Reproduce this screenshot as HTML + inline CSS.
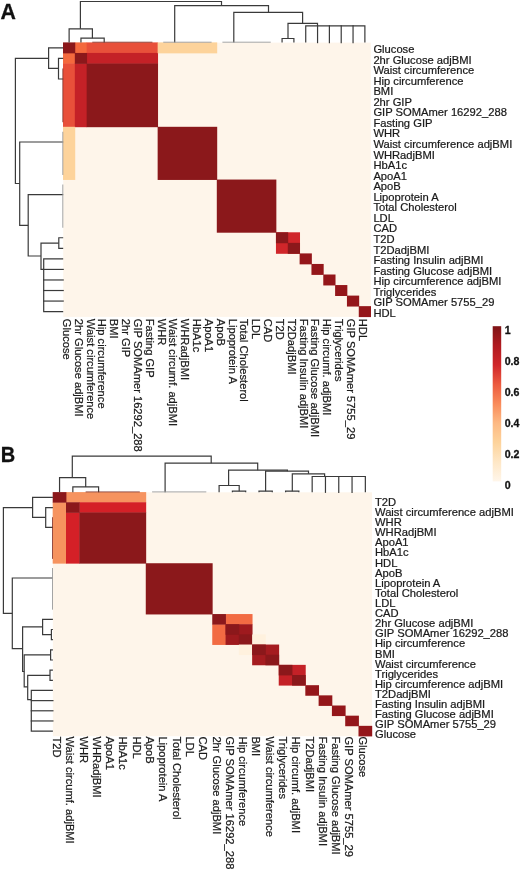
<!DOCTYPE html>
<html><head><meta charset="utf-8"><title>Figure</title>
<style>
html,body{margin:0;padding:0;background:#fff;}
body{width:520px;height:870px;overflow:hidden;}
svg{display:block;font-family:"Liberation Sans",Arial,Helvetica,sans-serif;}
</style></head><body>
<svg width="520" height="870" viewBox="0 0 520 870">
<rect x="63.20" y="42.60" width="307.60" height="274.30" fill="#fef5ea"/>
<rect x="74.83" y="42.40" width="12.23" height="10.95" fill="#f4693e"/>
<rect x="63.00" y="52.95" width="12.23" height="10.95" fill="#f4693e"/>
<rect x="86.66" y="42.40" width="71.38" height="10.95" fill="#e8503a"/>
<rect x="63.00" y="63.50" width="12.23" height="63.70" fill="#e8503a"/>
<rect x="86.66" y="52.95" width="71.38" height="10.95" fill="#c42127"/>
<rect x="74.83" y="63.50" width="12.23" height="63.70" fill="#c42127"/>
<rect x="157.65" y="42.40" width="59.55" height="10.95" fill="#fdd39b"/>
<rect x="63.00" y="126.80" width="12.23" height="53.15" fill="#fdd39b"/>
<rect x="63.00" y="42.40" width="12.23" height="10.95" fill="#8b181b"/>
<rect x="74.83" y="52.95" width="12.23" height="10.95" fill="#8b181b"/>
<rect x="86.66" y="63.50" width="71.38" height="63.70" fill="#8b181b"/>
<rect x="157.65" y="126.80" width="59.55" height="53.15" fill="#8b181b"/>
<rect x="216.80" y="179.55" width="59.55" height="53.15" fill="#8b181b"/>
<rect x="275.95" y="232.30" width="24.06" height="21.50" fill="#d0262a"/>
<rect x="275.95" y="232.30" width="12.23" height="10.95" fill="#8b181b"/>
<rect x="287.78" y="242.85" width="12.23" height="10.95" fill="#8b181b"/>
<rect x="299.62" y="253.40" width="12.23" height="10.95" fill="#94161a"/>
<rect x="311.45" y="263.95" width="12.23" height="10.95" fill="#94161a"/>
<rect x="323.28" y="274.50" width="12.23" height="10.95" fill="#94161a"/>
<rect x="335.11" y="285.05" width="12.23" height="10.95" fill="#94161a"/>
<rect x="346.94" y="295.60" width="12.23" height="10.95" fill="#94161a"/>
<rect x="358.77" y="306.15" width="12.23" height="10.95" fill="#94161a"/>
<path d="M80.40 28.80L80.40 1.50L221.50 1.50L221.50 5.70" stroke="#3a3a3a" stroke-width="1.2" fill="none" stroke-linejoin="miter"/>
<path d="M69.12 42.60L69.12 28.80L92.40 28.80L92.40 38.20" stroke="#3a3a3a" stroke-width="1.2" fill="none" stroke-linejoin="miter"/>
<path d="M80.95 42.60L80.95 38.20L104.20 38.20L104.20 42.60" stroke="#3a3a3a" stroke-width="1.2" fill="none" stroke-linejoin="miter"/>
<path d="M174.70 42.60L174.70 5.70L268.50 5.70L268.50 12.30" stroke="#3a3a3a" stroke-width="1.2" fill="none" stroke-linejoin="miter"/>
<path d="M233.80 42.60L233.80 12.30L302.60 12.30L302.60 23.40" stroke="#3a3a3a" stroke-width="1.2" fill="none" stroke-linejoin="miter"/>
<path d="M288.00 38.50L288.00 23.40L317.50 23.40L317.50 25.80" stroke="#3a3a3a" stroke-width="1.2" fill="none" stroke-linejoin="miter"/>
<path d="M282.07 42.60L282.07 38.50L293.90 38.50L293.90 42.60" stroke="#3a3a3a" stroke-width="1.2" fill="none" stroke-linejoin="miter"/>
<path d="M305.73 42.60L305.73 25.80L364.88 25.80L364.88 42.60" stroke="#3a3a3a" stroke-width="1.2" fill="none" stroke-linejoin="miter"/>
<path d="M317.56 25.80L317.56 42.60" stroke="#3a3a3a" stroke-width="1.2" fill="none" stroke-linecap="square"/>
<path d="M329.39 25.80L329.39 42.60" stroke="#3a3a3a" stroke-width="1.2" fill="none" stroke-linecap="square"/>
<path d="M341.22 25.80L341.22 42.60" stroke="#3a3a3a" stroke-width="1.2" fill="none" stroke-linecap="square"/>
<path d="M353.05 25.80L353.05 42.60" stroke="#3a3a3a" stroke-width="1.2" fill="none" stroke-linecap="square"/>
<path d="M92.78 42.20L151.93 42.20" stroke="#7a2a22" stroke-width="0.8" fill="none" stroke-linecap="square"/>
<path d="M163.76 42.20L211.08 42.20" stroke="#9a9a9a" stroke-width="0.9" fill="none" stroke-linecap="square"/>
<path d="M222.92 42.20L270.24 42.20" stroke="#9a9a9a" stroke-width="0.9" fill="none" stroke-linecap="square"/>
<path d="M48.60 58.40L15.40 58.40L15.40 183.50L19.70 183.50" stroke="#3a3a3a" stroke-width="1.2" fill="none" stroke-linejoin="miter"/>
<path d="M63.20 47.88L48.60 47.88L48.60 68.40L58.50 68.40" stroke="#3a3a3a" stroke-width="1.2" fill="none" stroke-linejoin="miter"/>
<path d="M63.20 58.42L58.50 58.42L58.50 79.00L63.20 79.00" stroke="#3a3a3a" stroke-width="1.2" fill="none" stroke-linejoin="miter"/>
<path d="M63.20 142.00L19.70 142.00L19.70 225.40L28.20 225.40" stroke="#3a3a3a" stroke-width="1.2" fill="none" stroke-linejoin="miter"/>
<path d="M63.20 194.70L28.20 194.70L28.20 256.00L41.00 256.00" stroke="#3a3a3a" stroke-width="1.2" fill="none" stroke-linejoin="miter"/>
<path d="M58.80 243.10L41.00 243.10L41.00 269.43L43.70 269.43" stroke="#3a3a3a" stroke-width="1.2" fill="none" stroke-linejoin="miter"/>
<path d="M63.20 237.77L58.80 237.77L58.80 248.32L63.20 248.32" stroke="#3a3a3a" stroke-width="1.2" fill="none" stroke-linejoin="miter"/>
<path d="M63.20 258.88L43.70 258.88L43.70 311.62L63.20 311.62" stroke="#3a3a3a" stroke-width="1.2" fill="none" stroke-linejoin="miter"/>
<path d="M43.70 269.43L63.20 269.43" stroke="#3a3a3a" stroke-width="1.2" fill="none" stroke-linecap="square"/>
<path d="M43.70 279.97L63.20 279.97" stroke="#3a3a3a" stroke-width="1.2" fill="none" stroke-linecap="square"/>
<path d="M43.70 290.52L63.20 290.52" stroke="#3a3a3a" stroke-width="1.2" fill="none" stroke-linecap="square"/>
<path d="M43.70 301.07L63.20 301.07" stroke="#3a3a3a" stroke-width="1.2" fill="none" stroke-linecap="square"/>
<path d="M62.80 68.97L62.80 121.72" stroke="#7a2a22" stroke-width="0.8" fill="none" stroke-linecap="square"/>
<path d="M62.80 132.28L62.80 174.47" stroke="#9a9a9a" stroke-width="0.9" fill="none" stroke-linecap="square"/>
<path d="M62.80 185.02L62.80 227.22" stroke="#9a9a9a" stroke-width="0.9" fill="none" stroke-linecap="square"/>
<text x="373.40" y="52.98" font-size="11.2" font-weight="normal" fill="#1a1a1a" stroke="#1a1a1a" stroke-width="0.22">Glucose</text>
<text x="373.40" y="63.54" font-size="11.2" font-weight="normal" fill="#1a1a1a" stroke="#1a1a1a" stroke-width="0.22">2hr Glucose adjBMI</text>
<text x="373.40" y="74.10" font-size="11.2" font-weight="normal" fill="#1a1a1a" stroke="#1a1a1a" stroke-width="0.22">Waist circumference</text>
<text x="373.40" y="84.65" font-size="11.2" font-weight="normal" fill="#1a1a1a" stroke="#1a1a1a" stroke-width="0.22">Hip circumference</text>
<text x="373.40" y="95.21" font-size="11.2" font-weight="normal" fill="#1a1a1a" stroke="#1a1a1a" stroke-width="0.22">BMI</text>
<text x="373.40" y="105.77" font-size="11.2" font-weight="normal" fill="#1a1a1a" stroke="#1a1a1a" stroke-width="0.22">2hr GIP</text>
<text x="373.40" y="116.33" font-size="11.2" font-weight="normal" fill="#1a1a1a" stroke="#1a1a1a" stroke-width="0.22">GIP SOMAmer 16292_288</text>
<text x="373.40" y="126.89" font-size="11.2" font-weight="normal" fill="#1a1a1a" stroke="#1a1a1a" stroke-width="0.22">Fasting GIP</text>
<text x="373.40" y="137.44" font-size="11.2" font-weight="normal" fill="#1a1a1a" stroke="#1a1a1a" stroke-width="0.22">WHR</text>
<text x="373.40" y="148.00" font-size="11.2" font-weight="normal" fill="#1a1a1a" stroke="#1a1a1a" stroke-width="0.22">Waist circumference adjBMI</text>
<text x="373.40" y="158.56" font-size="11.2" font-weight="normal" fill="#1a1a1a" stroke="#1a1a1a" stroke-width="0.22">WHRadjBMI</text>
<text x="373.40" y="169.12" font-size="11.2" font-weight="normal" fill="#1a1a1a" stroke="#1a1a1a" stroke-width="0.22">HbA1c</text>
<text x="373.40" y="179.68" font-size="11.2" font-weight="normal" fill="#1a1a1a" stroke="#1a1a1a" stroke-width="0.22">ApoA1</text>
<text x="373.40" y="190.23" font-size="11.2" font-weight="normal" fill="#1a1a1a" stroke="#1a1a1a" stroke-width="0.22">ApoB</text>
<text x="373.40" y="200.79" font-size="11.2" font-weight="normal" fill="#1a1a1a" stroke="#1a1a1a" stroke-width="0.22">Lipoprotein A</text>
<text x="373.40" y="211.35" font-size="11.2" font-weight="normal" fill="#1a1a1a" stroke="#1a1a1a" stroke-width="0.22">Total Cholesterol</text>
<text x="373.40" y="221.91" font-size="11.2" font-weight="normal" fill="#1a1a1a" stroke="#1a1a1a" stroke-width="0.22">LDL</text>
<text x="373.40" y="232.47" font-size="11.2" font-weight="normal" fill="#1a1a1a" stroke="#1a1a1a" stroke-width="0.22">CAD</text>
<text x="373.40" y="243.02" font-size="11.2" font-weight="normal" fill="#1a1a1a" stroke="#1a1a1a" stroke-width="0.22">T2D</text>
<text x="373.40" y="253.58" font-size="11.2" font-weight="normal" fill="#1a1a1a" stroke="#1a1a1a" stroke-width="0.22">T2DadjBMI</text>
<text x="373.40" y="264.14" font-size="11.2" font-weight="normal" fill="#1a1a1a" stroke="#1a1a1a" stroke-width="0.22">Fasting Insulin adjBMI</text>
<text x="373.40" y="274.70" font-size="11.2" font-weight="normal" fill="#1a1a1a" stroke="#1a1a1a" stroke-width="0.22">Fasting Glucose adjBMI</text>
<text x="373.40" y="285.26" font-size="11.2" font-weight="normal" fill="#1a1a1a" stroke="#1a1a1a" stroke-width="0.22">Hip circumference adjBMI</text>
<text x="373.40" y="295.81" font-size="11.2" font-weight="normal" fill="#1a1a1a" stroke="#1a1a1a" stroke-width="0.22">Triglycerides</text>
<text x="373.40" y="306.37" font-size="11.2" font-weight="normal" fill="#1a1a1a" stroke="#1a1a1a" stroke-width="0.22">GIP SOMAmer 5755_29</text>
<text x="373.40" y="316.93" font-size="11.2" font-weight="normal" fill="#1a1a1a" stroke="#1a1a1a" stroke-width="0.22">HDL</text>
<text transform="translate(62.92 318.80) rotate(90)" font-size="11.15" font-weight="normal" fill="#1a1a1a" stroke="#1a1a1a" stroke-width="0.22">Glucose</text>
<text transform="translate(74.75 318.80) rotate(90)" font-size="11.15" font-weight="normal" fill="#1a1a1a" stroke="#1a1a1a" stroke-width="0.22">2hr Glucose adjBMI</text>
<text transform="translate(86.58 318.80) rotate(90)" font-size="11.15" font-weight="normal" fill="#1a1a1a" stroke="#1a1a1a" stroke-width="0.22">Waist circumference</text>
<text transform="translate(98.41 318.80) rotate(90)" font-size="11.15" font-weight="normal" fill="#1a1a1a" stroke="#1a1a1a" stroke-width="0.22">Hip circumference</text>
<text transform="translate(110.24 318.80) rotate(90)" font-size="11.15" font-weight="normal" fill="#1a1a1a" stroke="#1a1a1a" stroke-width="0.22">BMI</text>
<text transform="translate(122.07 318.80) rotate(90)" font-size="11.15" font-weight="normal" fill="#1a1a1a" stroke="#1a1a1a" stroke-width="0.22">2hr GIP</text>
<text transform="translate(133.90 318.80) rotate(90)" font-size="11.15" font-weight="normal" fill="#1a1a1a" stroke="#1a1a1a" stroke-width="0.22">GIP SOMAmer 16292_288</text>
<text transform="translate(145.73 318.80) rotate(90)" font-size="11.15" font-weight="normal" fill="#1a1a1a" stroke="#1a1a1a" stroke-width="0.22">Fasting GIP</text>
<text transform="translate(157.56 318.80) rotate(90)" font-size="11.15" font-weight="normal" fill="#1a1a1a" stroke="#1a1a1a" stroke-width="0.22">WHR</text>
<text transform="translate(169.39 318.80) rotate(90)" font-size="11.15" font-weight="normal" fill="#1a1a1a" stroke="#1a1a1a" stroke-width="0.22">Waist circumf. adjBMI</text>
<text transform="translate(181.22 318.80) rotate(90)" font-size="11.15" font-weight="normal" fill="#1a1a1a" stroke="#1a1a1a" stroke-width="0.22">WHRadjBMI</text>
<text transform="translate(193.05 318.80) rotate(90)" font-size="11.15" font-weight="normal" fill="#1a1a1a" stroke="#1a1a1a" stroke-width="0.22">HbA1c</text>
<text transform="translate(204.88 318.80) rotate(90)" font-size="11.15" font-weight="normal" fill="#1a1a1a" stroke="#1a1a1a" stroke-width="0.22">ApoA1</text>
<text transform="translate(216.72 318.80) rotate(90)" font-size="11.15" font-weight="normal" fill="#1a1a1a" stroke="#1a1a1a" stroke-width="0.22">ApoB</text>
<text transform="translate(228.55 318.80) rotate(90)" font-size="11.15" font-weight="normal" fill="#1a1a1a" stroke="#1a1a1a" stroke-width="0.22">Lipoprotein A</text>
<text transform="translate(240.38 318.80) rotate(90)" font-size="11.15" font-weight="normal" fill="#1a1a1a" stroke="#1a1a1a" stroke-width="0.22">Total Cholesterol</text>
<text transform="translate(252.21 318.80) rotate(90)" font-size="11.15" font-weight="normal" fill="#1a1a1a" stroke="#1a1a1a" stroke-width="0.22">LDL</text>
<text transform="translate(264.04 318.80) rotate(90)" font-size="11.15" font-weight="normal" fill="#1a1a1a" stroke="#1a1a1a" stroke-width="0.22">CAD</text>
<text transform="translate(275.87 318.80) rotate(90)" font-size="11.15" font-weight="normal" fill="#1a1a1a" stroke="#1a1a1a" stroke-width="0.22">T2D</text>
<text transform="translate(287.70 318.80) rotate(90)" font-size="11.15" font-weight="normal" fill="#1a1a1a" stroke="#1a1a1a" stroke-width="0.22">T2DadjBMI</text>
<text transform="translate(299.53 318.80) rotate(90)" font-size="11.15" font-weight="normal" fill="#1a1a1a" stroke="#1a1a1a" stroke-width="0.22">Fasting Insulin adjBMI</text>
<text transform="translate(311.36 318.80) rotate(90)" font-size="11.15" font-weight="normal" fill="#1a1a1a" stroke="#1a1a1a" stroke-width="0.22">Fasting Glucose adjBMI</text>
<text transform="translate(323.19 318.80) rotate(90)" font-size="11.15" font-weight="normal" fill="#1a1a1a" stroke="#1a1a1a" stroke-width="0.22">Hip circumf. adjBMI</text>
<text transform="translate(335.02 318.80) rotate(90)" font-size="11.15" font-weight="normal" fill="#1a1a1a" stroke="#1a1a1a" stroke-width="0.22">Triglycerides</text>
<text transform="translate(346.85 318.80) rotate(90)" font-size="11.15" font-weight="normal" fill="#1a1a1a" stroke="#1a1a1a" stroke-width="0.22">GIP SOMAmer 5755_29</text>
<text transform="translate(358.68 318.80) rotate(90)" font-size="11.15" font-weight="normal" fill="#1a1a1a" stroke="#1a1a1a" stroke-width="0.22">HDL</text>
<text transform="translate(0.55 18.5) scale(0.97 0.99)" font-size="22" font-weight="bold" fill="#111" stroke="#111" stroke-width="0.3">A</text>
<defs><linearGradient id="cb" x1="0" y1="0" x2="0" y2="1"><stop offset="0" stop-color="#7f1416"/><stop offset="0.125" stop-color="#b01a20"/><stop offset="0.25" stop-color="#d0262a"/><stop offset="0.375" stop-color="#ec5a3f"/><stop offset="0.5" stop-color="#f98b5a"/><stop offset="0.625" stop-color="#fdb983"/><stop offset="0.75" stop-color="#fdd39b"/><stop offset="0.875" stop-color="#fee7c6"/><stop offset="1" stop-color="#fff6ea"/></linearGradient></defs>
<rect x="492.7" y="326.2" width="8.5" height="155.2" fill="url(#cb)"/>
<text x="504.70" y="334.00" font-size="10.6" font-weight="bold" fill="#111" stroke="#111" stroke-width="0.3">1</text>
<text x="504.70" y="365.04" font-size="10.6" font-weight="bold" fill="#111" stroke="#111" stroke-width="0.3">0.8</text>
<text x="504.70" y="396.08" font-size="10.6" font-weight="bold" fill="#111" stroke="#111" stroke-width="0.3">0.6</text>
<text x="504.70" y="427.12" font-size="10.6" font-weight="bold" fill="#111" stroke="#111" stroke-width="0.3">0.4</text>
<text x="504.70" y="458.16" font-size="10.6" font-weight="bold" fill="#111" stroke="#111" stroke-width="0.3">0.2</text>
<text x="504.70" y="489.20" font-size="10.6" font-weight="bold" fill="#111" stroke="#111" stroke-width="0.3">0</text>
<rect x="52.90" y="492.30" width="319.10" height="243.90" fill="#fef5ea"/>
<rect x="66.00" y="492.10" width="80.18" height="10.56" fill="#f6935f"/>
<rect x="52.70" y="502.26" width="13.70" height="61.38" fill="#f6935f"/>
<rect x="79.29" y="502.26" width="66.88" height="10.56" fill="#d42027"/>
<rect x="66.00" y="512.42" width="13.70" height="51.21" fill="#d42027"/>
<rect x="52.70" y="492.10" width="13.70" height="10.56" fill="#8b181b"/>
<rect x="66.00" y="502.26" width="13.70" height="10.56" fill="#8b181b"/>
<rect x="79.29" y="512.42" width="66.88" height="51.21" fill="#8b181b"/>
<rect x="145.77" y="563.24" width="66.88" height="51.21" fill="#8b181b"/>
<rect x="225.55" y="614.05" width="26.99" height="10.56" fill="#f26b43"/>
<rect x="212.25" y="624.21" width="13.70" height="20.73" fill="#f26b43"/>
<rect x="212.25" y="614.05" width="13.70" height="10.56" fill="#8b181b"/>
<rect x="225.55" y="624.21" width="26.99" height="20.73" fill="#9e1a1e"/>
<rect x="225.55" y="624.21" width="13.70" height="10.56" fill="#8b181b"/>
<rect x="238.84" y="634.38" width="13.70" height="10.56" fill="#8b181b"/>
<rect x="252.14" y="634.38" width="13.70" height="10.56" fill="#fff1de"/>
<rect x="238.84" y="644.54" width="13.70" height="10.56" fill="#fff1de"/>
<rect x="252.14" y="644.54" width="26.99" height="20.73" fill="#a51c20"/>
<rect x="252.14" y="644.54" width="13.70" height="10.56" fill="#8b181b"/>
<rect x="265.43" y="654.70" width="13.70" height="10.56" fill="#8b181b"/>
<rect x="278.73" y="664.86" width="26.99" height="20.73" fill="#c42127"/>
<rect x="278.73" y="664.86" width="13.70" height="10.56" fill="#8b181b"/>
<rect x="292.03" y="675.02" width="13.70" height="10.56" fill="#8b181b"/>
<rect x="305.32" y="685.19" width="13.70" height="10.56" fill="#94161a"/>
<rect x="318.62" y="695.35" width="13.70" height="10.56" fill="#94161a"/>
<rect x="331.91" y="705.51" width="13.70" height="10.56" fill="#94161a"/>
<rect x="345.21" y="715.67" width="13.70" height="10.56" fill="#94161a"/>
<rect x="358.50" y="725.84" width="13.70" height="10.56" fill="#94161a"/>
<path d="M72.30 477.70L72.30 456.20L211.20 456.20L211.20 463.20" stroke="#3a3a3a" stroke-width="1.2" fill="none" stroke-linejoin="miter"/>
<path d="M59.55 492.30L59.55 477.70L85.70 477.70L85.70 486.90" stroke="#3a3a3a" stroke-width="1.2" fill="none" stroke-linejoin="miter"/>
<path d="M72.84 492.30L72.84 486.90L98.60 486.90L98.60 492.30" stroke="#3a3a3a" stroke-width="1.2" fill="none" stroke-linejoin="miter"/>
<path d="M165.10 492.30L165.10 463.20L257.70 463.20L257.70 470.20" stroke="#3a3a3a" stroke-width="1.2" fill="none" stroke-linejoin="miter"/>
<path d="M228.60 485.50L228.60 470.20L287.40 470.20L287.40 471.20" stroke="#3a3a3a" stroke-width="1.2" fill="none" stroke-linejoin="miter"/>
<path d="M219.10 492.30L219.10 485.50L239.20 485.50L239.20 491.20" stroke="#3a3a3a" stroke-width="1.2" fill="none" stroke-linejoin="miter"/>
<path d="M232.39 492.30L232.39 491.20L245.69 491.20L245.69 492.30" stroke="#3a3a3a" stroke-width="1.2" fill="none" stroke-linejoin="miter"/>
<path d="M265.60 491.20L265.60 471.20L308.50 471.20L308.50 473.80" stroke="#3a3a3a" stroke-width="1.2" fill="none" stroke-linejoin="miter"/>
<path d="M258.99 492.30L258.99 491.20L272.28 491.20L272.28 492.30" stroke="#3a3a3a" stroke-width="1.2" fill="none" stroke-linejoin="miter"/>
<path d="M292.30 491.20L292.30 473.80L324.60 473.80L324.60 476.50" stroke="#3a3a3a" stroke-width="1.2" fill="none" stroke-linejoin="miter"/>
<path d="M285.58 492.30L285.58 491.20L298.87 491.20L298.87 492.30" stroke="#3a3a3a" stroke-width="1.2" fill="none" stroke-linejoin="miter"/>
<path d="M312.17 492.30L312.17 476.50L365.35 476.50L365.35 492.30" stroke="#3a3a3a" stroke-width="1.2" fill="none" stroke-linejoin="miter"/>
<path d="M325.46 476.50L325.46 492.30" stroke="#3a3a3a" stroke-width="1.2" fill="none" stroke-linecap="square"/>
<path d="M338.76 476.50L338.76 492.30" stroke="#3a3a3a" stroke-width="1.2" fill="none" stroke-linecap="square"/>
<path d="M352.06 476.50L352.06 492.30" stroke="#3a3a3a" stroke-width="1.2" fill="none" stroke-linecap="square"/>
<path d="M86.14 491.90L139.32 491.90" stroke="#7a2a22" stroke-width="0.8" fill="none" stroke-linecap="square"/>
<path d="M152.62 491.90L205.80 491.90" stroke="#9a9a9a" stroke-width="0.9" fill="none" stroke-linecap="square"/>
<path d="M32.60 507.60L3.40 507.60L3.40 613.40L12.30 613.40" stroke="#3a3a3a" stroke-width="1.2" fill="none" stroke-linejoin="miter"/>
<path d="M52.90 497.38L32.60 497.38L32.60 517.30L45.70 517.30" stroke="#3a3a3a" stroke-width="1.2" fill="none" stroke-linejoin="miter"/>
<path d="M52.90 507.54L45.70 507.54L45.70 527.30L52.90 527.30" stroke="#3a3a3a" stroke-width="1.2" fill="none" stroke-linejoin="miter"/>
<path d="M52.90 578.00L12.30 578.00L12.30 648.70L22.60 648.70" stroke="#3a3a3a" stroke-width="1.2" fill="none" stroke-linejoin="miter"/>
<path d="M42.60 626.90L22.60 626.90L22.60 671.50L24.20 671.50" stroke="#3a3a3a" stroke-width="1.2" fill="none" stroke-linejoin="miter"/>
<path d="M52.90 619.33L42.60 619.33L42.60 634.60L51.40 634.60" stroke="#3a3a3a" stroke-width="1.2" fill="none" stroke-linejoin="miter"/>
<path d="M52.90 629.49L51.40 629.49L51.40 639.66L52.90 639.66" stroke="#3a3a3a" stroke-width="1.2" fill="none" stroke-linejoin="miter"/>
<path d="M50.60 654.90L24.20 654.90L24.20 686.90L27.70 686.90" stroke="#3a3a3a" stroke-width="1.2" fill="none" stroke-linejoin="miter"/>
<path d="M52.90 649.82L50.60 649.82L50.60 659.98L52.90 659.98" stroke="#3a3a3a" stroke-width="1.2" fill="none" stroke-linejoin="miter"/>
<path d="M50.00 675.30L27.70 675.30L27.70 699.70L31.30 699.70" stroke="#3a3a3a" stroke-width="1.2" fill="none" stroke-linejoin="miter"/>
<path d="M52.90 670.14L50.00 670.14L50.00 680.31L52.90 680.31" stroke="#3a3a3a" stroke-width="1.2" fill="none" stroke-linejoin="miter"/>
<path d="M52.90 690.47L31.30 690.47L31.30 731.12L52.90 731.12" stroke="#3a3a3a" stroke-width="1.2" fill="none" stroke-linejoin="miter"/>
<path d="M31.30 700.63L52.90 700.63" stroke="#3a3a3a" stroke-width="1.2" fill="none" stroke-linecap="square"/>
<path d="M31.30 710.79L52.90 710.79" stroke="#3a3a3a" stroke-width="1.2" fill="none" stroke-linecap="square"/>
<path d="M31.30 720.96L52.90 720.96" stroke="#3a3a3a" stroke-width="1.2" fill="none" stroke-linecap="square"/>
<path d="M52.50 517.71L52.50 558.36" stroke="#7a2a22" stroke-width="0.8" fill="none" stroke-linecap="square"/>
<path d="M52.50 568.52L52.50 609.17" stroke="#9a9a9a" stroke-width="0.9" fill="none" stroke-linecap="square"/>
<text x="375.00" y="505.80" font-size="11.2" font-weight="normal" fill="#1a1a1a" stroke="#1a1a1a" stroke-width="0.22">T2D</text>
<text x="375.00" y="515.92" font-size="11.2" font-weight="normal" fill="#1a1a1a" stroke="#1a1a1a" stroke-width="0.22">Waist circumference adjBMI</text>
<text x="375.00" y="526.03" font-size="11.2" font-weight="normal" fill="#1a1a1a" stroke="#1a1a1a" stroke-width="0.22">WHR</text>
<text x="375.00" y="536.15" font-size="11.2" font-weight="normal" fill="#1a1a1a" stroke="#1a1a1a" stroke-width="0.22">WHRadjBMI</text>
<text x="375.00" y="546.27" font-size="11.2" font-weight="normal" fill="#1a1a1a" stroke="#1a1a1a" stroke-width="0.22">ApoA1</text>
<text x="375.00" y="556.38" font-size="11.2" font-weight="normal" fill="#1a1a1a" stroke="#1a1a1a" stroke-width="0.22">HbA1c</text>
<text x="375.00" y="566.50" font-size="11.2" font-weight="normal" fill="#1a1a1a" stroke="#1a1a1a" stroke-width="0.22">HDL</text>
<text x="375.00" y="576.62" font-size="11.2" font-weight="normal" fill="#1a1a1a" stroke="#1a1a1a" stroke-width="0.22">ApoB</text>
<text x="375.00" y="586.74" font-size="11.2" font-weight="normal" fill="#1a1a1a" stroke="#1a1a1a" stroke-width="0.22">Lipoprotein A</text>
<text x="375.00" y="596.85" font-size="11.2" font-weight="normal" fill="#1a1a1a" stroke="#1a1a1a" stroke-width="0.22">Total Cholesterol</text>
<text x="375.00" y="606.97" font-size="11.2" font-weight="normal" fill="#1a1a1a" stroke="#1a1a1a" stroke-width="0.22">LDL</text>
<text x="375.00" y="617.09" font-size="11.2" font-weight="normal" fill="#1a1a1a" stroke="#1a1a1a" stroke-width="0.22">CAD</text>
<text x="375.00" y="627.20" font-size="11.2" font-weight="normal" fill="#1a1a1a" stroke="#1a1a1a" stroke-width="0.22">2hr Glucose adjBMI</text>
<text x="375.00" y="637.32" font-size="11.2" font-weight="normal" fill="#1a1a1a" stroke="#1a1a1a" stroke-width="0.22">GIP SOMAmer 16292_288</text>
<text x="375.00" y="647.44" font-size="11.2" font-weight="normal" fill="#1a1a1a" stroke="#1a1a1a" stroke-width="0.22">Hip circumference</text>
<text x="375.00" y="657.56" font-size="11.2" font-weight="normal" fill="#1a1a1a" stroke="#1a1a1a" stroke-width="0.22">BMI</text>
<text x="375.00" y="667.67" font-size="11.2" font-weight="normal" fill="#1a1a1a" stroke="#1a1a1a" stroke-width="0.22">Waist circumference</text>
<text x="375.00" y="677.79" font-size="11.2" font-weight="normal" fill="#1a1a1a" stroke="#1a1a1a" stroke-width="0.22">Triglycerides</text>
<text x="375.00" y="687.91" font-size="11.2" font-weight="normal" fill="#1a1a1a" stroke="#1a1a1a" stroke-width="0.22">Hip circumference adjBMI</text>
<text x="375.00" y="698.02" font-size="11.2" font-weight="normal" fill="#1a1a1a" stroke="#1a1a1a" stroke-width="0.22">T2DadjBMI</text>
<text x="375.00" y="708.14" font-size="11.2" font-weight="normal" fill="#1a1a1a" stroke="#1a1a1a" stroke-width="0.22">Fasting Insulin adjBMI</text>
<text x="375.00" y="718.26" font-size="11.2" font-weight="normal" fill="#1a1a1a" stroke="#1a1a1a" stroke-width="0.22">Fasting Glucose adjBMI</text>
<text x="375.00" y="728.37" font-size="11.2" font-weight="normal" fill="#1a1a1a" stroke="#1a1a1a" stroke-width="0.22">GIP SOMAmer 5755_29</text>
<text x="375.00" y="738.49" font-size="11.2" font-weight="normal" fill="#1a1a1a" stroke="#1a1a1a" stroke-width="0.22">Glucose</text>
<text transform="translate(52.95 736.40) rotate(90)" font-size="11.15" font-weight="normal" fill="#1a1a1a" stroke="#1a1a1a" stroke-width="0.22">T2D</text>
<text transform="translate(66.24 736.40) rotate(90)" font-size="11.15" font-weight="normal" fill="#1a1a1a" stroke="#1a1a1a" stroke-width="0.22">Waist circumf. adjBMI</text>
<text transform="translate(79.54 736.40) rotate(90)" font-size="11.15" font-weight="normal" fill="#1a1a1a" stroke="#1a1a1a" stroke-width="0.22">WHR</text>
<text transform="translate(92.84 736.40) rotate(90)" font-size="11.15" font-weight="normal" fill="#1a1a1a" stroke="#1a1a1a" stroke-width="0.22">WHRadjBMI</text>
<text transform="translate(106.13 736.40) rotate(90)" font-size="11.15" font-weight="normal" fill="#1a1a1a" stroke="#1a1a1a" stroke-width="0.22">ApoA1</text>
<text transform="translate(119.43 736.40) rotate(90)" font-size="11.15" font-weight="normal" fill="#1a1a1a" stroke="#1a1a1a" stroke-width="0.22">HbA1c</text>
<text transform="translate(132.72 736.40) rotate(90)" font-size="11.15" font-weight="normal" fill="#1a1a1a" stroke="#1a1a1a" stroke-width="0.22">HDL</text>
<text transform="translate(146.02 736.40) rotate(90)" font-size="11.15" font-weight="normal" fill="#1a1a1a" stroke="#1a1a1a" stroke-width="0.22">ApoB</text>
<text transform="translate(159.31 736.40) rotate(90)" font-size="11.15" font-weight="normal" fill="#1a1a1a" stroke="#1a1a1a" stroke-width="0.22">Lipoprotein A</text>
<text transform="translate(172.61 736.40) rotate(90)" font-size="11.15" font-weight="normal" fill="#1a1a1a" stroke="#1a1a1a" stroke-width="0.22">Total Cholesterol</text>
<text transform="translate(185.91 736.40) rotate(90)" font-size="11.15" font-weight="normal" fill="#1a1a1a" stroke="#1a1a1a" stroke-width="0.22">LDL</text>
<text transform="translate(199.20 736.40) rotate(90)" font-size="11.15" font-weight="normal" fill="#1a1a1a" stroke="#1a1a1a" stroke-width="0.22">CAD</text>
<text transform="translate(212.50 736.40) rotate(90)" font-size="11.15" font-weight="normal" fill="#1a1a1a" stroke="#1a1a1a" stroke-width="0.22">2hr Glucose adjBMI</text>
<text transform="translate(225.79 736.40) rotate(90)" font-size="11.15" font-weight="normal" fill="#1a1a1a" stroke="#1a1a1a" stroke-width="0.22">GIP SOMAmer 16292_288</text>
<text transform="translate(239.09 736.40) rotate(90)" font-size="11.15" font-weight="normal" fill="#1a1a1a" stroke="#1a1a1a" stroke-width="0.22">Hip circumference</text>
<text transform="translate(252.39 736.40) rotate(90)" font-size="11.15" font-weight="normal" fill="#1a1a1a" stroke="#1a1a1a" stroke-width="0.22">BMI</text>
<text transform="translate(265.68 736.40) rotate(90)" font-size="11.15" font-weight="normal" fill="#1a1a1a" stroke="#1a1a1a" stroke-width="0.22">Waist circumference</text>
<text transform="translate(278.98 736.40) rotate(90)" font-size="11.15" font-weight="normal" fill="#1a1a1a" stroke="#1a1a1a" stroke-width="0.22">Triglycerides</text>
<text transform="translate(292.27 736.40) rotate(90)" font-size="11.15" font-weight="normal" fill="#1a1a1a" stroke="#1a1a1a" stroke-width="0.22">Hip circumf. adjBMI</text>
<text transform="translate(305.57 736.40) rotate(90)" font-size="11.15" font-weight="normal" fill="#1a1a1a" stroke="#1a1a1a" stroke-width="0.22">T2DadjBMI</text>
<text transform="translate(318.86 736.40) rotate(90)" font-size="11.15" font-weight="normal" fill="#1a1a1a" stroke="#1a1a1a" stroke-width="0.22">Fasting Insulin adjBMI</text>
<text transform="translate(332.16 736.40) rotate(90)" font-size="11.15" font-weight="normal" fill="#1a1a1a" stroke="#1a1a1a" stroke-width="0.22">Fasting Glucose adjBMI</text>
<text transform="translate(345.46 736.40) rotate(90)" font-size="11.15" font-weight="normal" fill="#1a1a1a" stroke="#1a1a1a" stroke-width="0.22">GIP SOMAmer 5755_29</text>
<text transform="translate(358.75 736.40) rotate(90)" font-size="11.15" font-weight="normal" fill="#1a1a1a" stroke="#1a1a1a" stroke-width="0.22">Glucose</text>
<text transform="translate(0.75 461.5) scale(0.91 1.015)" font-size="22" font-weight="bold" fill="#111" stroke="#111" stroke-width="0.3">B</text>
</svg>
</body></html>
